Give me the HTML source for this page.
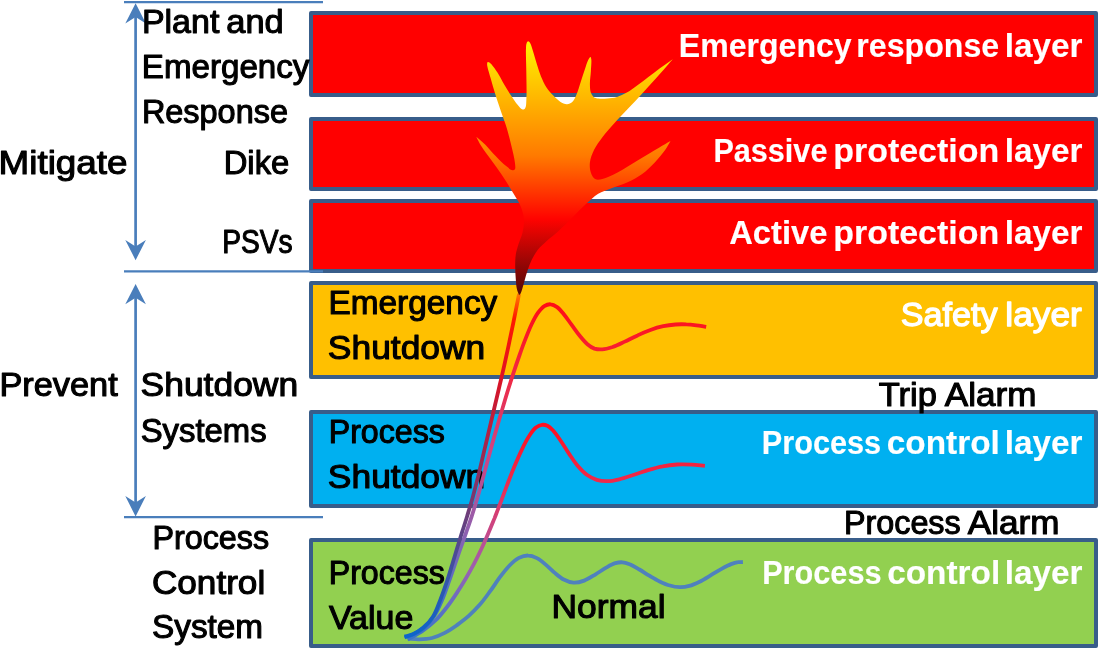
<!DOCTYPE html>
<html lang="en">
<head>
<meta charset="utf-8">
<title>Layers of protection</title>
<style>
html,body{margin:0;padding:0;background:#fff;}
body{width:1098px;height:648px;overflow:hidden;}
svg{display:block;will-change:transform;transform:translateZ(0);}
text{font-family:"Liberation Sans",sans-serif;}
</style>
</head>
<body>
<svg width="1098" height="648" viewBox="0 0 1098 648">
<defs>
<linearGradient id="fire" x1="0" y1="41.7" x2="0" y2="295" gradientUnits="userSpaceOnUse">
<stop offset="0" stop-color="#FFF200"/>
<stop offset="0.45" stop-color="#FF7A00"/>
<stop offset="0.70" stop-color="#FF0300"/>
<stop offset="1" stop-color="#4D0808"/>
</linearGradient>
<linearGradient id="gA" x1="0" y1="294" x2="0" y2="638" gradientUnits="userSpaceOnUse">
<stop offset="0" stop-color="#FF7A00"/>
<stop offset="0.07" stop-color="#FF1800"/>
<stop offset="0.22" stop-color="#E41020"/>
<stop offset="0.46" stop-color="#A02850"/>
<stop offset="0.70" stop-color="#5C4488"/>
<stop offset="0.86" stop-color="#2C58B0"/>
<stop offset="1" stop-color="#0C66CC"/>
</linearGradient>
<linearGradient id="gB" x1="0" y1="303" x2="0" y2="638" gradientUnits="userSpaceOnUse">
<stop offset="0" stop-color="#FF0C14"/>
<stop offset="0.20" stop-color="#F4263E"/>
<stop offset="0.44" stop-color="#D04480"/>
<stop offset="0.68" stop-color="#9060B0"/>
<stop offset="0.86" stop-color="#5070C4"/>
<stop offset="1" stop-color="#1C6CCC"/>
</linearGradient>
<linearGradient id="gC" x1="0" y1="424" x2="0" y2="638" gradientUnits="userSpaceOnUse">
<stop offset="0" stop-color="#FF1020"/>
<stop offset="0.25" stop-color="#F02848"/>
<stop offset="0.50" stop-color="#C84888"/>
<stop offset="0.68" stop-color="#9A60B0"/>
<stop offset="0.85" stop-color="#6070C4"/>
<stop offset="1" stop-color="#3C74C8"/>
</linearGradient>
</defs>
<rect width="1098" height="648" fill="#fff"/>
<g stroke="#385D8A" stroke-width="4" stroke-linejoin="round">
<rect x="311" y="13" width="785" height="82" fill="#FF0000"/>
<rect x="311" y="119" width="785" height="70" fill="#FF0000"/>
<rect x="311" y="201" width="785" height="70" fill="#FF0000"/>
<rect x="311" y="283" width="785" height="94" fill="#FFC000"/>
<rect x="311" y="412" width="785" height="94" fill="#00B0F0"/>
<rect x="311" y="540" width="785" height="106" fill="#92D050"/>
</g>
<g stroke="#4A7EBB" stroke-width="2.3" fill="none">
<path d="M124 2.1H323"/>
<path d="M124 271.4H323"/>
<path d="M124 517.2H323"/>
</g>
<g stroke="#4A7EBB" stroke-width="2.7" fill="none">
<path d="M135.6 14V250"/>
<path d="M135.6 295V506"/>
</g>
<g fill="#4A7EBB">
<path d="M135.6 3.2 L125.3 23.5 L135.6 17.0 L145.9 23.5 Z"/>
<path d="M135.6 260.2 L125.3 239.9 L135.6 246.4 L145.9 239.9 Z"/>
<path d="M135.6 284.0 L125.3 304.3 L135.6 297.8 L145.9 304.3 Z"/>
<path d="M135.6 516.4 L125.3 496.1 L135.6 502.6 L145.9 496.1 Z"/>
</g>
<g>
<text y="33.05" font-size="33" font-weight="400" fill="#000" stroke="#000" stroke-width="1.1" stroke-linejoin="round"><tspan x="141.92" textLength="77.42" lengthAdjust="spacingAndGlyphs">Plant</tspan> <tspan x="226.30" textLength="57.42" lengthAdjust="spacingAndGlyphs">and</tspan></text>
<text y="78.15" font-size="33" font-weight="400" fill="#000" stroke="#000" stroke-width="1.1" stroke-linejoin="round"><tspan x="141.87" textLength="167.56" lengthAdjust="spacingAndGlyphs">Emergency</tspan></text>
<text y="123.25" font-size="33" font-weight="400" fill="#000" stroke="#000" stroke-width="1.1" stroke-linejoin="round"><tspan x="141.91" textLength="146.05" lengthAdjust="spacingAndGlyphs">Response</tspan></text>
<text y="173.65" font-size="33" font-weight="400" fill="#000" stroke="#000" stroke-width="1.1" stroke-linejoin="round"><tspan x="223.69" textLength="65.59" lengthAdjust="spacingAndGlyphs">Dike</tspan></text>
<text y="253.25" font-size="33" font-weight="400" fill="#000" stroke="#000" stroke-width="1.1" stroke-linejoin="round"><tspan x="222.16" textLength="70.47" lengthAdjust="spacingAndGlyphs">PSVs</tspan></text>
<text y="173.65" font-size="33" font-weight="400" fill="#000" stroke="#000" stroke-width="1.1" stroke-linejoin="round"><tspan x="-1.41" textLength="128.91" lengthAdjust="spacingAndGlyphs">Mitigate</tspan></text>
<text y="396.15" font-size="33" font-weight="400" fill="#000" stroke="#000" stroke-width="1.1" stroke-linejoin="round"><tspan x="-0.61" textLength="118.36" lengthAdjust="spacingAndGlyphs">Prevent</tspan></text>
<text y="396.15" font-size="33" font-weight="400" fill="#000" stroke="#000" stroke-width="1.1" stroke-linejoin="round"><tspan x="140.59" textLength="157.53" lengthAdjust="spacingAndGlyphs">Shutdown</tspan></text>
<text y="441.75" font-size="33" font-weight="400" fill="#000" stroke="#000" stroke-width="1.1" stroke-linejoin="round"><tspan x="140.66" textLength="125.95" lengthAdjust="spacingAndGlyphs">Systems</tspan></text>
<text y="548.55" font-size="33" font-weight="400" fill="#000" stroke="#000" stroke-width="1.1" stroke-linejoin="round"><tspan x="152.42" textLength="116.69" lengthAdjust="spacingAndGlyphs">Process</tspan></text>
<text y="593.65" font-size="33" font-weight="400" fill="#000" stroke="#000" stroke-width="1.1" stroke-linejoin="round"><tspan x="151.91" textLength="113.30" lengthAdjust="spacingAndGlyphs">Control</tspan></text>
<text y="638.45" font-size="33" font-weight="400" fill="#000" stroke="#000" stroke-width="1.1" stroke-linejoin="round"><tspan x="152.05" textLength="111.00" lengthAdjust="spacingAndGlyphs">System</tspan></text>
<text y="313.85" font-size="33" font-weight="400" fill="#000" stroke="#000" stroke-width="1.1" stroke-linejoin="round"><tspan x="328.45" textLength="168.84" lengthAdjust="spacingAndGlyphs">Emergency</tspan></text>
<text y="358.95" font-size="33" font-weight="400" fill="#000" stroke="#000" stroke-width="1.1" stroke-linejoin="round"><tspan x="327.89" textLength="157.43" lengthAdjust="spacingAndGlyphs">Shutdown</tspan></text>
<text y="442.85" font-size="33" font-weight="400" fill="#000" stroke="#000" stroke-width="1.1" stroke-linejoin="round"><tspan x="328.73" textLength="116.08" lengthAdjust="spacingAndGlyphs">Process</tspan></text>
<text y="488.15" font-size="33" font-weight="400" fill="#000" stroke="#000" stroke-width="1.1" stroke-linejoin="round"><tspan x="327.89" textLength="157.43" lengthAdjust="spacingAndGlyphs">Shutdown</tspan></text>
<text y="583.95" font-size="33" font-weight="400" fill="#000" stroke="#000" stroke-width="1.1" stroke-linejoin="round"><tspan x="328.73" textLength="116.08" lengthAdjust="spacingAndGlyphs">Process</tspan></text>
<text y="629.05" font-size="33" font-weight="400" fill="#000" stroke="#000" stroke-width="1.1" stroke-linejoin="round"><tspan x="328.96" textLength="84.39" lengthAdjust="spacingAndGlyphs">Value</tspan></text>
<text y="618.25" font-size="33" font-weight="400" fill="#000" stroke="#000" stroke-width="1.1" stroke-linejoin="round"><tspan x="551.51" textLength="114.06" lengthAdjust="spacingAndGlyphs">Normal</tspan></text>
<text y="406.35" font-size="33" font-weight="400" fill="#000" stroke="#000" stroke-width="1.1" stroke-linejoin="round"><tspan x="878.84" textLength="58.09" lengthAdjust="spacingAndGlyphs">Trip</tspan> <tspan x="944.86" textLength="91.58" lengthAdjust="spacingAndGlyphs">Alarm</tspan></text>
<text y="534.25" font-size="33" font-weight="400" fill="#000" stroke="#000" stroke-width="1.1" stroke-linejoin="round"><tspan x="843.92" textLength="116.80" lengthAdjust="spacingAndGlyphs">Process</tspan> <tspan x="967.86" textLength="91.58" lengthAdjust="spacingAndGlyphs">Alarm</tspan></text>
</g>
<g fill="none" stroke-width="3.8" stroke-linecap="butt" stroke-linejoin="round">
<path stroke="#4F81BD" d="M407.7 638.7 C411.5 638.9 415.3 639.4 419.2 639.3 C423.4 639.2 427.8 639.0 432.0 638.0 C436.3 636.9 440.7 635.0 444.8 632.9 C449.1 630.7 453.3 627.7 457.3 624.9 C461.3 622.0 465.3 619.0 469.0 615.7 C472.8 612.3 476.4 608.5 479.9 604.6 C483.4 600.6 486.6 596.1 489.8 591.7 C493.1 587.3 496.0 582.6 499.2 578.2 C502.4 574.0 505.6 569.5 509.1 566.0 C512.2 562.8 515.5 559.6 518.9 557.9 C521.9 556.4 525.1 555.4 528.1 555.5 C531.1 555.5 534.1 556.7 536.9 558.1 C540.0 559.6 542.8 562.2 545.7 564.6 C548.7 567.0 551.5 570.1 554.5 572.6 C557.5 575.1 560.4 577.8 563.7 579.5 C566.8 581.1 570.2 582.5 573.6 582.7 C577.1 582.9 580.7 581.9 584.2 580.6 C588.1 579.2 591.9 576.5 595.6 574.3 C599.3 572.1 603.1 569.3 606.6 567.4 C609.6 565.7 612.5 564.0 615.4 563.2 C617.8 562.5 620.1 562.1 622.5 562.3 C625.1 562.5 627.6 563.5 630.3 564.5 C633.3 565.8 636.3 567.7 639.4 569.5 C642.6 571.4 646.0 573.7 649.3 575.7 C652.7 577.7 656.1 579.8 659.6 581.4 C663.0 583.0 666.4 584.6 669.9 585.5 C673.1 586.5 676.5 587.1 679.8 587.2 C682.9 587.3 686.1 586.8 689.3 585.9 C692.7 585.0 696.1 583.4 699.6 581.7 C703.3 579.9 707.2 577.4 710.9 575.2 C714.6 573.0 718.4 570.5 722.0 568.6 C725.1 566.9 728.2 565.2 731.1 564.1 C733.5 563.2 735.9 562.5 738.0 562.2 C739.8 561.9 741.3 562.1 742.9 562.0"/>
<path stroke="url(#gC)" d="M407.7 639.5 C412.6 636.7 417.8 634.2 422.5 631.0 C427.0 627.9 431.4 624.4 435.4 620.5 C439.5 616.6 443.1 612.0 446.6 607.5 C450.2 602.9 453.5 598.0 456.7 593.1 C459.9 588.3 462.9 583.4 465.8 578.5 C468.7 573.6 471.4 568.7 474.1 563.6 C476.7 558.7 479.2 553.6 481.6 548.5 C483.9 543.5 486.2 538.4 488.3 533.3 C490.5 528.3 492.5 523.2 494.6 518.1 C496.6 512.9 498.6 507.6 500.7 502.3 C502.8 496.7 504.8 491.0 507.0 485.4 C509.2 479.6 511.4 473.7 513.8 468.0 C516.2 462.2 518.6 456.3 521.3 450.8 C523.7 445.7 526.3 440.4 529.0 436.3 C531.2 432.9 533.4 429.5 535.9 427.6 C537.8 426.1 540.0 425.0 542.0 424.8 C543.8 424.6 545.7 425.0 547.4 425.8 C549.4 426.8 551.2 428.6 553.1 430.5 C555.5 433.1 557.9 436.7 560.3 440.2 C563.1 444.2 565.9 449.1 568.8 453.4 C571.7 457.6 574.5 462.1 577.6 465.8 C580.5 469.2 583.5 472.4 586.8 474.8 C589.9 477.0 593.2 478.8 596.7 479.9 C600.1 480.9 603.6 481.3 607.3 481.2 C611.2 481.2 615.3 480.3 619.4 479.3 C623.9 478.2 628.6 476.5 633.3 475.0 C638.2 473.5 643.1 471.6 648.0 470.1 C652.9 468.7 657.8 467.3 662.7 466.4 C667.5 465.4 672.5 464.8 677.3 464.5 C682.1 464.2 686.9 464.4 691.6 464.6 C696.1 464.8 700.5 465.4 704.9 465.8"/>
<path stroke="url(#gB)" d="M404.5 637.5 C407.8 636.3 411.1 635.5 414.4 633.8 C417.9 632.1 421.6 629.9 424.8 627.0 C428.3 623.9 431.6 619.7 434.4 615.4 C437.5 610.7 439.8 605.1 442.2 599.7 C444.6 594.2 446.6 588.3 448.6 582.5 C450.7 576.8 452.6 571.1 454.6 565.4 C456.5 559.9 458.4 554.4 460.3 549.0 C462.2 543.6 464.1 538.4 466.0 533.0 C467.9 527.5 469.8 522.1 471.7 516.3 C473.7 510.2 475.6 503.8 477.6 497.2 C479.6 490.1 481.7 482.7 483.7 475.2 C485.8 467.5 487.9 459.6 490.1 451.8 C492.2 444.1 494.3 436.4 496.5 428.9 C498.6 421.7 500.6 414.6 502.7 407.8 C504.6 401.3 506.5 394.9 508.4 388.8 C510.3 382.9 512.0 377.3 513.9 371.7 C515.7 366.2 517.5 360.9 519.4 355.5 C521.3 350.1 523.2 344.7 525.3 339.4 C527.3 334.3 529.3 329.1 531.5 324.5 C533.5 320.3 535.6 316.1 537.9 312.9 C539.9 310.2 542.0 307.5 544.3 306.1 C546.3 304.9 548.6 304.1 550.7 304.3 C552.9 304.4 555.1 305.7 557.1 307.1 C559.5 308.8 561.6 311.5 563.8 314.2 C566.4 317.3 568.9 321.2 571.5 324.7 C574.2 328.3 576.9 332.4 579.7 335.8 C582.2 338.8 584.7 342.0 587.4 344.2 C589.6 346.1 591.9 347.7 594.4 348.6 C596.9 349.4 599.6 349.6 602.4 349.4 C605.6 349.2 609.1 348.1 612.6 347.0 C616.6 345.6 620.7 343.5 624.8 341.6 C629.0 339.6 633.3 337.3 637.6 335.4 C641.8 333.4 646.1 331.5 650.4 330.0 C654.7 328.4 659.0 327.1 663.3 326.2 C667.4 325.3 671.5 324.8 675.5 324.5 C679.2 324.2 682.8 324.2 686.3 324.4 C689.8 324.5 693.1 324.9 696.4 325.3 C699.7 325.7 702.9 326.4 706.2 326.9"/>
<path stroke="url(#gA)" d="M519.1 293.8 C517.5 301.6 516.0 309.4 514.4 317.3 C512.8 325.5 511.0 333.9 509.3 342.1 C507.6 350.2 505.8 358.4 504.1 366.2 C502.5 373.5 500.8 380.4 499.2 387.3 C497.7 394.0 496.1 400.4 494.5 407.2 C492.9 414.1 491.2 421.2 489.5 428.5 C487.7 436.0 485.9 443.9 484.0 451.6 C482.2 459.5 480.3 467.6 478.4 475.4 C476.5 482.9 474.6 490.4 472.7 497.4 C470.9 503.9 469.0 510.0 467.2 516.0 C465.5 521.7 463.7 527.0 462.0 532.4 C460.3 537.8 458.7 543.1 457.0 548.6 C455.3 554.1 453.7 559.6 452.0 565.2 C450.3 570.9 448.6 576.7 446.6 582.4 C444.7 588.2 442.6 593.9 440.4 599.6 C438.2 605.2 436.3 611.4 433.3 616.2 C430.5 620.7 426.8 624.7 423.1 627.8 C419.9 630.5 416.1 632.7 412.8 634.2 C410.0 635.5 407.3 635.9 404.5 636.7"/>
</g>
<path fill="url(#fire)" d="M519.1 295.3 C518.4 293.2 517.4 291.4 516.9 289.1 C516.2 286.2 516.1 282.8 515.8 279.3 C515.5 275.4 515.2 271.0 515.2 266.9 C515.2 262.8 515.2 258.5 515.8 254.6 C516.3 251.1 517.3 248.2 518.3 244.7 C519.5 240.8 521.7 236.6 522.6 232.3 C523.5 228.0 524.2 223.3 523.9 218.9 C523.6 214.6 522.4 210.6 520.7 206.4 C518.8 201.6 515.4 196.7 512.4 191.7 C509.2 186.3 505.5 180.2 501.9 174.9 C498.5 169.8 494.9 165.2 491.4 160.3 C487.9 155.4 483.6 150.0 480.9 145.6 C478.9 142.4 477.8 139.7 476.3 136.8 C479.2 139.4 482.1 141.7 485.1 144.6 C488.5 148.0 492.0 152.5 495.6 156.1 C499.0 159.6 502.9 163.6 506.1 166.1 C508.4 167.9 510.7 170.1 512.4 170.3 C513.4 170.4 514.4 170.1 514.9 169.3 C515.7 168.1 515.2 165.2 514.9 162.4 C514.4 158.0 512.7 151.4 511.3 145.6 C509.8 139.3 507.9 131.8 506.1 126.0 C504.6 121.2 503.1 117.7 501.5 113.0 C499.6 107.3 497.2 100.3 495.3 94.2 C493.5 88.6 491.9 83.0 490.5 77.8 C489.2 73.1 487.0 66.7 487.1 64.2 C487.1 63.2 487.3 62.3 487.8 62.1 C488.2 61.9 489.0 62.2 489.8 62.8 C491.7 64.1 495.0 68.8 497.3 72.3 C499.8 76.0 501.9 80.6 504.2 84.6 C506.4 88.4 508.7 92.1 511.0 95.6 C513.2 98.9 515.6 102.6 517.8 105.1 C519.4 107.0 521.2 109.4 522.6 109.5 C523.6 109.6 524.7 108.9 525.3 107.9 C526.4 106.1 526.2 102.3 526.4 98.3 C526.8 91.5 526.4 79.7 526.3 71.0 C526.2 63.0 525.7 52.6 526.0 47.8 C526.1 45.6 526.2 44.1 526.7 43.0 C527.0 42.2 527.6 41.3 528.1 41.3 C528.7 41.2 529.5 42.1 530.1 43.0 C531.2 44.5 531.8 47.6 532.8 50.5 C534.1 54.4 535.5 59.8 536.9 64.2 C538.2 68.4 539.4 72.5 541.0 76.4 C542.6 80.2 544.4 84.1 546.5 87.4 C548.5 90.5 550.9 93.1 553.3 95.6 C555.5 97.9 557.8 100.2 560.2 101.7 C562.4 103.0 564.9 104.3 567.0 104.2 C568.9 104.1 571.0 103.1 572.5 101.7 C574.3 100.0 575.3 97.1 576.6 94.2 C578.1 90.7 579.3 86.0 580.7 81.9 C582.1 77.8 583.5 73.4 584.8 69.6 C586.0 66.2 587.0 62.3 588.2 60.1 C588.9 58.7 590.0 56.9 590.5 57.0 C590.9 57.1 591.1 58.3 591.3 59.4 C591.6 61.8 591.1 67.0 590.9 71.0 C590.7 75.4 589.8 80.6 589.9 84.6 C590.0 87.7 590.1 90.6 590.9 92.8 C591.5 94.5 592.4 95.9 593.6 96.9 C594.9 97.9 596.5 98.3 598.4 98.6 C600.9 99.0 604.2 98.8 607.2 98.6 C610.4 98.3 613.8 98.0 617.0 97.0 C620.3 96.0 623.5 94.4 626.8 92.6 C630.5 90.5 634.2 87.6 637.8 85.0 C641.5 82.4 645.1 79.5 648.7 76.8 C652.3 74.1 655.8 71.4 659.6 68.6 C663.7 65.6 668.3 62.4 672.7 59.3 C671.3 60.9 670.2 62.2 668.4 64.2 C665.6 67.4 661.1 72.7 657.4 76.8 C653.8 80.9 650.1 84.8 646.5 88.8 C642.9 92.8 639.3 96.9 635.6 100.8 C632.0 104.7 628.1 108.6 624.6 112.3 C621.3 115.8 618.4 118.8 615.0 122.6 C611.0 127.0 606.0 132.4 602.4 137.2 C599.2 141.4 596.2 145.5 594.1 149.8 C592.1 153.9 590.4 158.4 589.9 162.4 C589.5 166.0 589.9 169.9 590.9 172.8 C591.8 175.3 593.2 178.1 595.1 179.1 C597.0 180.1 599.6 179.7 602.4 179.1 C606.5 178.3 611.9 175.5 617.1 172.8 C623.6 169.5 631.0 164.5 638.0 160.3 C645.0 156.1 653.0 151.2 659.0 147.7 C663.4 145.1 666.7 143.2 670.5 141.0 C668.8 143.9 667.5 146.7 665.3 149.8 C662.5 153.7 658.6 158.4 654.8 162.4 C650.9 166.5 646.7 170.6 642.2 173.9 C637.7 177.2 632.7 179.9 627.6 182.3 C622.3 184.8 616.0 186.5 610.8 188.5 C606.3 190.3 602.2 191.3 598.2 193.8 C593.8 196.5 589.8 200.6 585.7 204.3 C581.4 208.2 577.5 212.5 573.1 216.8 C568.4 221.4 563.2 226.8 558.5 231.0 C554.4 234.7 550.3 237.7 546.7 241.0 C543.5 243.9 540.5 246.5 538.0 249.6 C535.6 252.7 533.7 255.9 531.9 259.5 C530.0 263.3 528.5 267.7 527.1 271.9 C525.7 276.0 524.7 280.4 523.6 284.2 C522.6 287.5 521.7 291.4 520.7 293.3 C520.2 294.3 519.6 294.6 519.1 295.3 Z"/>
<g>
<text y="56.92" font-size="33.7" font-weight="700" fill="#fff" stroke="#fff" stroke-width="0.15" stroke-linejoin="round"><tspan x="678.86" textLength="172.76" lengthAdjust="spacingAndGlyphs">Emergency</tspan> <tspan x="856.36" textLength="142.81" lengthAdjust="spacingAndGlyphs">response</tspan> <tspan x="1004.70" textLength="77.78" lengthAdjust="spacingAndGlyphs">layer</tspan></text>
<text y="161.62" font-size="33.7" font-weight="700" fill="#fff" stroke="#fff" stroke-width="0.15" stroke-linejoin="round"><tspan x="713.45" textLength="113.96" lengthAdjust="spacingAndGlyphs">Passive</tspan> <tspan x="833.25" textLength="165.92" lengthAdjust="spacingAndGlyphs">protection</tspan> <tspan x="1004.70" textLength="77.78" lengthAdjust="spacingAndGlyphs">layer</tspan></text>
<text y="243.62" font-size="33.7" font-weight="700" fill="#fff" stroke="#fff" stroke-width="0.15" stroke-linejoin="round"><tspan x="729.15" textLength="98.30" lengthAdjust="spacingAndGlyphs">Active</tspan> <tspan x="833.25" textLength="165.92" lengthAdjust="spacingAndGlyphs">protection</tspan> <tspan x="1004.70" textLength="77.78" lengthAdjust="spacingAndGlyphs">layer</tspan></text>
<text y="325.55" font-size="33.5" font-weight="400" fill="#fff" stroke="#fff" stroke-width="1.3" stroke-linejoin="round"><tspan x="900.68" textLength="96.84" lengthAdjust="spacingAndGlyphs">Safety</tspan> <tspan x="1005.31" textLength="76.51" lengthAdjust="spacingAndGlyphs">layer</tspan></text>
<text y="454.43" font-size="33.7" font-weight="700" fill="#fff" stroke="#fff" stroke-width="0.15" stroke-linejoin="round"><tspan x="761.75" textLength="119.45" lengthAdjust="spacingAndGlyphs">Process</tspan> <tspan x="886.77" textLength="113.06" lengthAdjust="spacingAndGlyphs">control</tspan> <tspan x="1004.70" textLength="77.78" lengthAdjust="spacingAndGlyphs">layer</tspan></text>
<text y="583.52" font-size="33.7" font-weight="700" fill="#fff" stroke="#fff" stroke-width="0.15" stroke-linejoin="round"><tspan x="762.15" textLength="119.45" lengthAdjust="spacingAndGlyphs">Process</tspan> <tspan x="887.17" textLength="113.06" lengthAdjust="spacingAndGlyphs">control</tspan> <tspan x="1004.70" textLength="77.78" lengthAdjust="spacingAndGlyphs">layer</tspan></text>
</g>
</svg>
</body>
</html>
